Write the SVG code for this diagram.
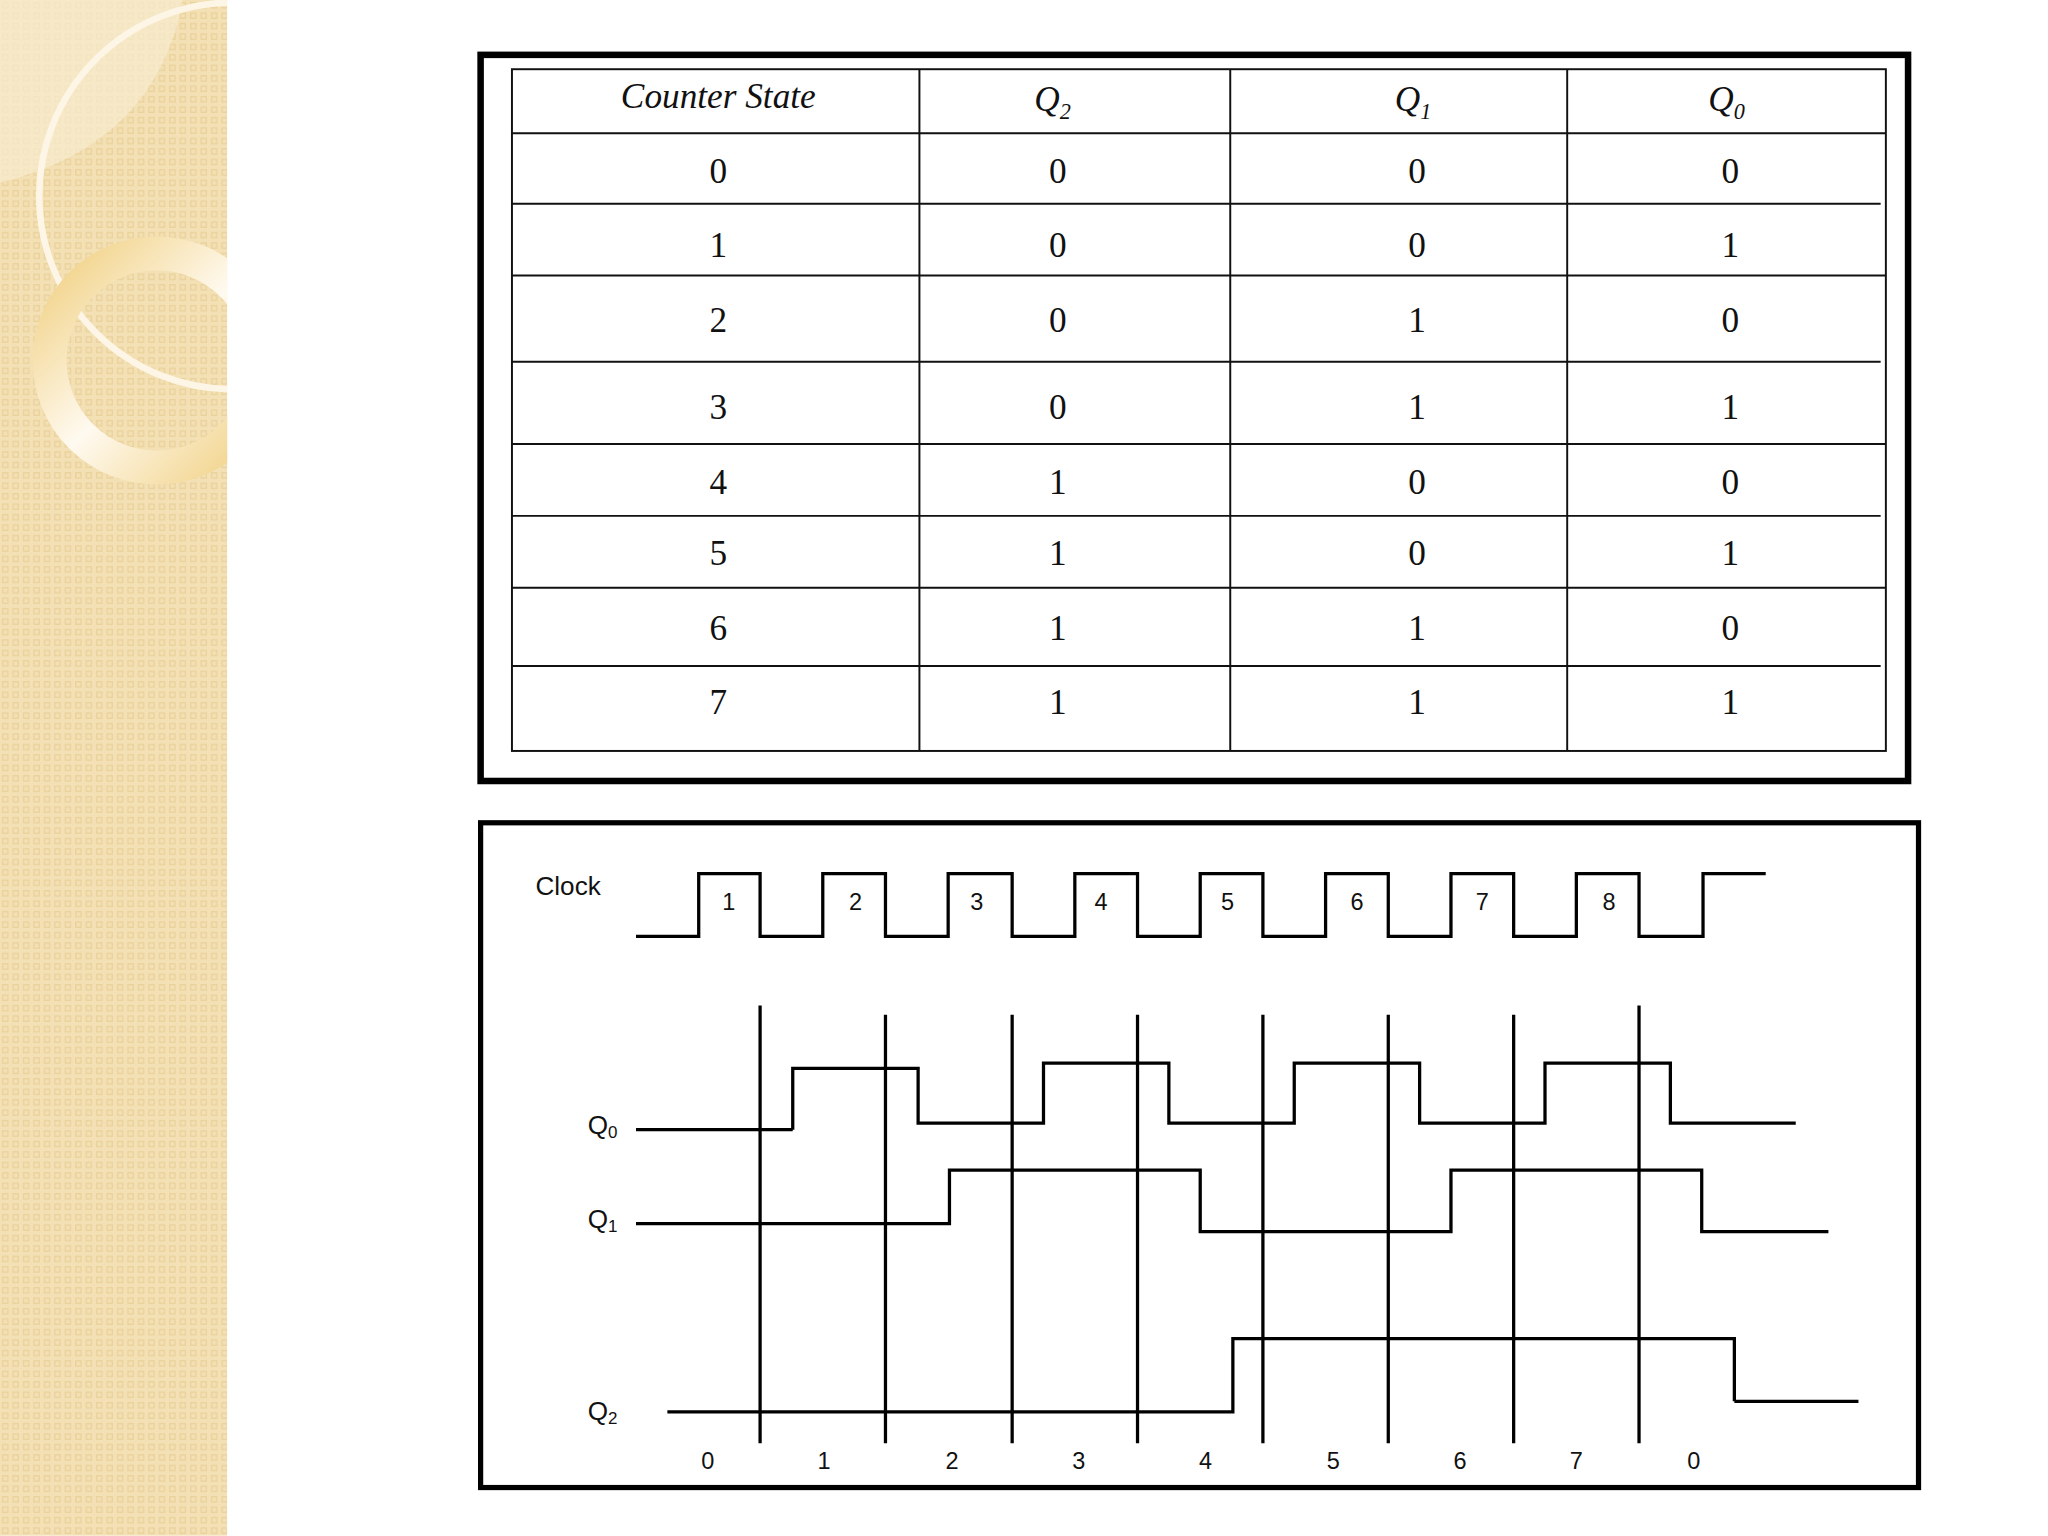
<svg xmlns="http://www.w3.org/2000/svg" width="2048" height="1536" viewBox="0 0 2048 1536">
<defs>
<style>
.t{font-family:"Liberation Serif","DejaVu Serif",serif;font-size:27px;text-anchor:middle;fill:#111}
.h{font-family:"Liberation Serif","DejaVu Serif",serif;font-style:italic;font-size:27px;text-anchor:middle;fill:#111}
.s{font-family:"Liberation Sans",Arial,sans-serif;font-size:20px;fill:#111}
.sc{font-family:"Liberation Sans",Arial,sans-serif;font-size:18px;fill:#111;text-anchor:middle}
.g{stroke:#111;stroke-width:1.5;fill:none}
.w{stroke:#000;stroke-width:2.5;fill:none}
</style>
<pattern id="pt" width="8" height="8" patternUnits="userSpaceOnUse">
<rect width="8" height="8" fill="#f3e0b4"/><rect x="2" y="2" width="4" height="4" fill="none" stroke="#ead29c" stroke-width="1"/>
</pattern>
<linearGradient id="gr" x1="0" y1="0" x2="1" y2="1">
<stop offset="0" stop-color="#f0cf80"/><stop offset="0.5" stop-color="#fffaf0"/><stop offset="1" stop-color="#f0cf80"/>
</linearGradient>
<clipPath id="cp"><rect width="174" height="1176"/></clipPath>
</defs>
<rect width="2048" height="1536" fill="#fff"/>
<g transform="scale(1.306)">
<g id="sidebar" clip-path="url(#cp)">
<rect width="174" height="1176" fill="url(#pt)"/>
<path d="M0 0 H140 Q120 110 0 140 Z" fill="#f8ecd0" opacity="0.7"/>
<circle cx="178" cy="150" r="148" fill="none" stroke="#fdf6e6" stroke-width="5"/>
<circle cx="120" cy="276" r="82" fill="none" stroke="url(#gr)" stroke-width="26"/>
</g>
<g id="table">
<rect x="368" y="42" width="1093" height="556" fill="#fff" stroke="#000" stroke-width="5"/>
<rect x="392" y="53" width="1052" height="522" class="g"/>
<path class="g" d="M704 53V575M942 53V575M1200 53V575M392 102H1444M392 156H1440M392 211H1444M392 277H1440M392 340H1444M392 395H1440M392 450H1444M392 510H1440"/>
<text class="h" x="550" y="83">Counter State</text>
<text class="h" x="806" y="85">Q<tspan font-size="17" dy="6">2</tspan></text>
<text class="h" x="1082" y="85">Q<tspan font-size="17" dy="6">1</tspan></text>
<text class="h" x="1322" y="85">Q<tspan font-size="17" dy="6">0</tspan></text>
<g id="rows">
<text class="t" x="550" y="140">0</text><text class="t" x="810" y="140">0</text><text class="t" x="1085" y="140">0</text><text class="t" x="1325" y="140">0</text>
<text class="t" x="550" y="197">1</text><text class="t" x="810" y="197">0</text><text class="t" x="1085" y="197">0</text><text class="t" x="1325" y="197">1</text>
<text class="t" x="550" y="254">2</text><text class="t" x="810" y="254">0</text><text class="t" x="1085" y="254">1</text><text class="t" x="1325" y="254">0</text>
<text class="t" x="550" y="321">3</text><text class="t" x="810" y="321">0</text><text class="t" x="1085" y="321">1</text><text class="t" x="1325" y="321">1</text>
<text class="t" x="550" y="378">4</text><text class="t" x="810" y="378">1</text><text class="t" x="1085" y="378">0</text><text class="t" x="1325" y="378">0</text>
<text class="t" x="550" y="433">5</text><text class="t" x="810" y="433">1</text><text class="t" x="1085" y="433">0</text><text class="t" x="1325" y="433">1</text>
<text class="t" x="550" y="490">6</text><text class="t" x="810" y="490">1</text><text class="t" x="1085" y="490">1</text><text class="t" x="1325" y="490">0</text>
<text class="t" x="550" y="547">7</text><text class="t" x="810" y="547">1</text><text class="t" x="1085" y="547">1</text><text class="t" x="1325" y="547">1</text>
</g>
</g>
<g id="timing">
<rect x="368" y="630" width="1101" height="509" fill="#fff" stroke="#000" stroke-width="4"/>
<text class="s" x="410" y="685">Clock</text>
<path class="w" d="M487 717H535V669H582V717H630V669H678V717H726V669H775V717H823V669H871V717H919V669H967V717H1015V669H1063V717H1111V669H1159V717H1207V669H1255V717H1304V669H1352"/>
<g class="sc">
<text x="558" y="697">1</text><text x="655" y="697">2</text><text x="748" y="697">3</text><text x="843" y="697">4</text><text x="940" y="697">5</text><text x="1039" y="697">6</text><text x="1135" y="697">7</text><text x="1232" y="697">8</text>
</g>
<path class="w" stroke-width="2" d="M582 770V1105M678 777V1105M775 777V1105M871 777V1105M967 777V1105M1063 777V1105M1159 777V1105M1255 770V1105"/>
<path class="w" stroke-width="1" d="M487 865H607"/>
<path class="w" d="M607 865V818H703V860H799V814H895V860H991V814H1087V860H1183V814H1279V860H1375"/>
<path class="w" d="M487 937H727V896H919V943H1111V896H1303V943H1400"/>
<path class="w" d="M511 1081H944V1025H1328V1073"/>
<path class="w" stroke-width="1" d="M1328 1073H1423"/>
<text class="s" x="450" y="868">Q<tspan font-size="13" dy="3">0</tspan></text>
<text class="s" x="450" y="940">Q<tspan font-size="13" dy="3">1</tspan></text>
<text class="s" x="450" y="1087">Q<tspan font-size="13" dy="3">2</tspan></text>
<g class="sc">
<text x="542" y="1125">0</text><text x="631" y="1125">1</text><text x="729" y="1125">2</text><text x="826" y="1125">3</text><text x="923" y="1125">4</text><text x="1021" y="1125">5</text><text x="1118" y="1125">6</text><text x="1207" y="1125">7</text><text x="1297" y="1125">0</text>
</g>
</g>
</g>
</svg>
